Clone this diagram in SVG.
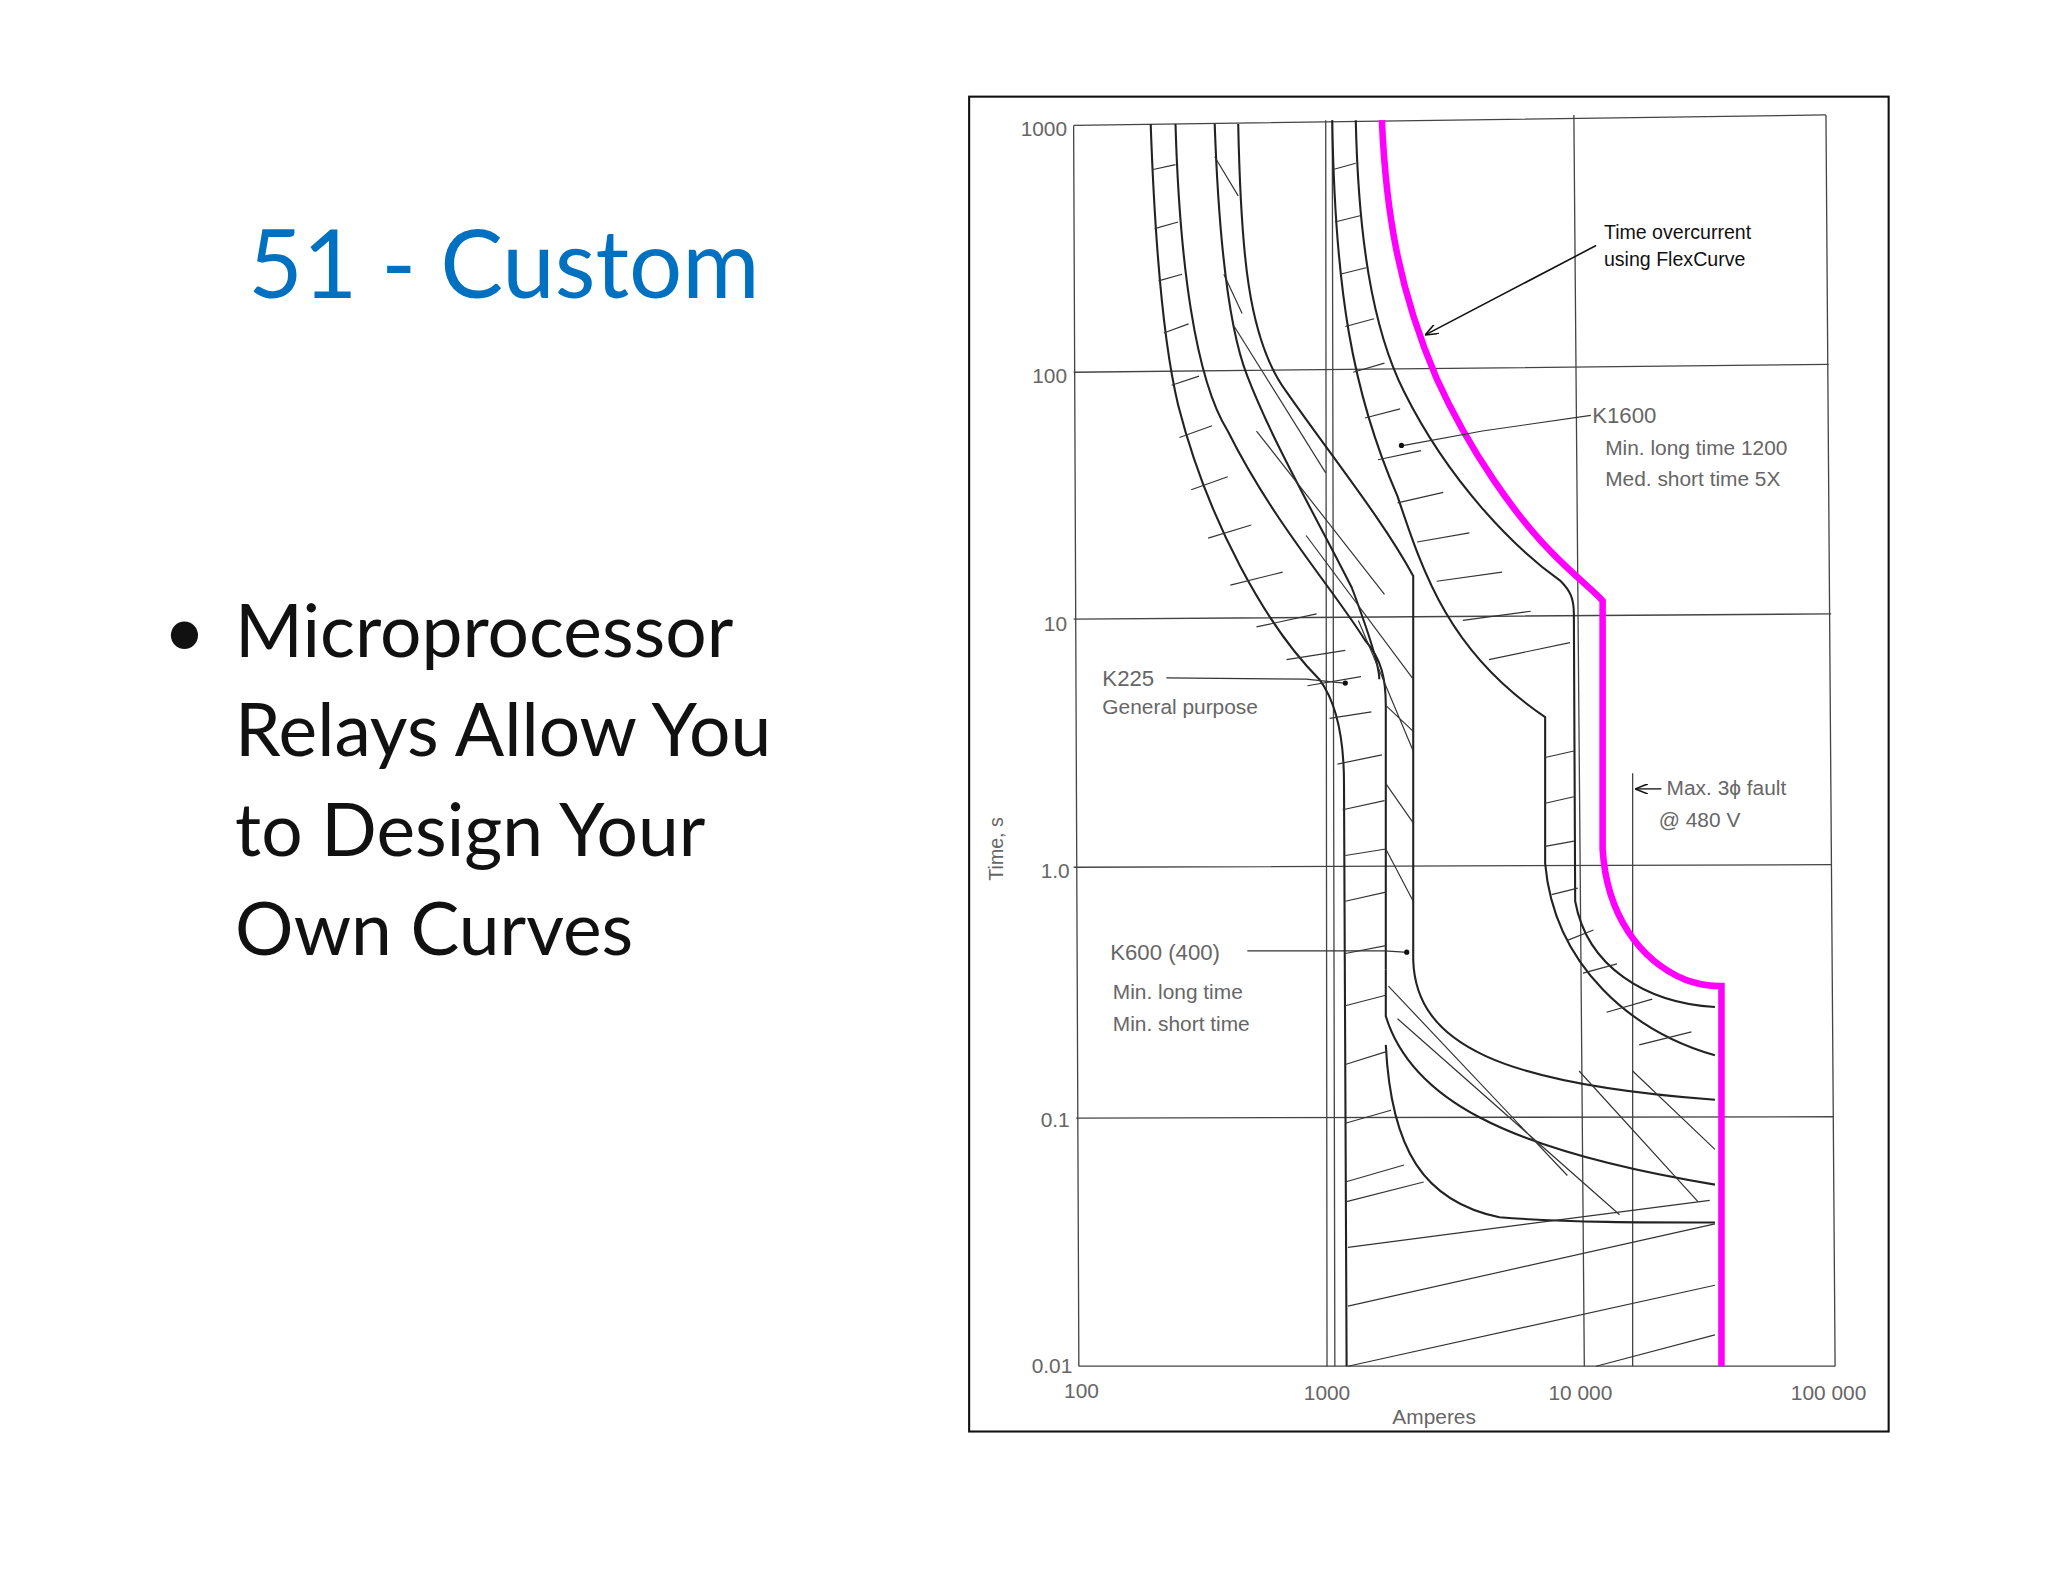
<svg xmlns="http://www.w3.org/2000/svg" width="2048" height="1582" viewBox="0 0 2048 1582">
<style>
.g{stroke:#444;stroke-width:1;fill:none}
.c{stroke:#222;stroke-width:1.6;fill:none}
.h{stroke:#333;stroke-width:0.9;fill:none}
.t{font-family:"Liberation Sans",Arial,sans-serif;fill:#666;font-size:16px}
.a{font-family:"Liberation Sans",Arial,sans-serif;fill:#111;font-size:15px}
.s{font-family:Lato,"Open Sans",sans-serif;fill:#111;font-size:56px}
</style>
<defs><marker id="ar" markerWidth="10" markerHeight="8" refX="9" refY="4" orient="auto" markerUnits="userSpaceOnUse"><path d="M0,0L10,4L0,8" fill="none" stroke="#111" stroke-width="1.2"/></marker></defs>
<rect width="2048" height="1582" fill="#fff"/>
<g transform="scale(1.30612)">
<g id="title"><text x="190" y="228" style="font-family:Lato,'Open Sans',sans-serif;font-size:72px;fill:#0070C0">51 - Custom</text></g>
<g id="bullet">
<text x="125" y="503" class="s">•</text>
<text x="180" y="503" class="s">Microprocessor</text>
<text x="180" y="579" class="s">Relays Allow You</text>
<text x="180" y="655" class="s">to Design Your</text>
<text x="180" y="731" class="s">Own Curves</text>
</g>
<g id="chart">
<rect x="742" y="74" width="704" height="1022" fill="#fff" stroke="#111" stroke-width="1.6"/>
<g id="grid">
<path class="g" d="M822,96L1398,88M822,285L1400,279M822,474L1402,470M822,664L1402,662M824,856L1404,855M826,1046L1405,1046"/>
<path class="g" d="M822,96L826,1046M1015,92L1016,1046M1020,92L1022,1046M1205,88L1213,1046M1398,88L1405,1046M1250,592L1250,1046"/>
</g>
<g id="connectors">
<!-- K225 band -->
<path class="c" d="M881,95C884,180 890,260 902,310C925,400 970,480 1010,520C1025,540 1029,570 1029,600L1031,1046"/>
<path class="c" d="M900,95C903,200 915,290 940,330C975,400 1020,450 1045,490C1058,505 1061,520 1061,540L1061,742"/>
<!-- K400 band -->
<path class="c" d="M930,95C933,180 940,250 955,288C975,340 1010,400 1035,450C1050,490 1056,510 1056,520"/>
<path class="c" d="M948,95C950,190 955,260 985,300C1020,350 1060,400 1082,441L1082,735C1084,800 1150,830 1313,842"/>
<path class="h" d="M930,120L948,150M937,210L951,240M945,250L1015,362M962,330L1060,455M1000,410L1082,520M1040,475L1082,575M1061,540L1082,560M1061,600L1082,630M1061,650L1082,690"/>
<!-- K600 curves -->
<path class="c" d="M1061,742L1061,778C1080,840 1150,880 1313,907"/>
<path class="c" d="M1061,800C1065,880 1090,920 1148,932C1200,936 1260,936 1313,936"/>
<path class="h" d="M1063,755L1200,900M1070,780L1240,930M1032,955L1309,919M1032,1000L1313,937M1032,1046L1313,984M1222,1046L1313,1022M1031,920L1090,905"/>
<path class="h" d="M1209,820L1300,920M1250,820L1313,880"/>
<!-- K1600 band -->
<path class="c" d="M1038,92C1040,180 1050,250 1075,300C1110,370 1160,420 1195,445C1202,452 1205,458 1205,470L1206,690C1215,740 1260,768 1313,771"/>
<path class="c" d="M1020,92C1022,220 1035,300 1070,380C1090,440 1110,500 1183,549L1183,661C1190,740 1250,790 1313,808"/>
<!-- hatches -->
<g class="h">
<path d="M882,130L900,126M884,175L902,170M887,215L905,210M891,255L910,248M897,295L918,288M903,335L928,326M912,375L940,365M925,412L958,402M942,448L982,438M962,480L1008,470M985,505L1030,498M1001,525L1042,518M1018,550L1050,545M1024,585L1058,578M1028,620L1060,613M1030,655L1061,650M1030,690L1061,683M1030,730L1061,724M1030,770L1061,762M1030,815L1062,805M1030,860L1065,850M1030,905L1075,892"/>
<path d="M1020,130L1038,125M1022,170L1042,165M1026,210L1046,205M1030,250L1052,244M1036,285L1060,278M1045,320L1072,313M1055,352L1088,345M1070,385L1105,377M1085,415L1125,408M1100,445L1150,438M1120,475L1172,468M1140,505L1202,492M1183,580L1205,575M1183,615L1205,610M1183,648L1205,644M1188,685L1208,680M1200,720L1220,712M1212,745L1238,738M1230,775L1265,765M1255,800L1295,790"/>
</g>
</g>
<path d="M1058,92C1061,160 1070,220 1100,290C1125,345 1160,395 1190,425C1210,445 1220,452 1227,460L1227,650C1230,700 1255,735 1290,750C1305,755 1312,755 1318,755L1318,1046" fill="none" stroke="#FF00FF" stroke-width="5"/>
<g id="labels">
<g text-anchor="end" class="t"><text x="817" y="104" class="t">1000</text><text x="817" y="293" class="t">100</text><text x="817" y="483" class="t">10</text><text x="819" y="672" class="t">1.0</text><text x="819" y="863" class="t">0.1</text><text x="821" y="1051" class="t">0.01</text></g>
<g text-anchor="middle"><text x="828" y="1070" class="t">100</text><text x="1016" y="1072" class="t">1000</text><text x="1210" y="1072" class="t">10 000</text><text x="1400" y="1072" class="t">100 000</text><text x="1098" y="1090" class="t">Amperes</text><text transform="translate(768,650) rotate(-90)" class="t" style="font-size:15px">Time, s</text></g>
<text x="1228" y="183" class="a">Time overcurrent</text><text x="1228" y="204" class="a">using FlexCurve</text>
<path d="M1222,188L1092,256" stroke="#111" stroke-width="1.2" fill="none" marker-end="url(#ar)"/>
<text x="1219" y="324" class="t" style="font-size:17px">K1600</text>
<path d="M1218,318L1135,330L1075,341" class="h"/><circle cx="1073" cy="341" r="2" fill="#111"/>
<text x="1229" y="348" class="t">Min. long time 1200</text><text x="1229" y="372" class="t">Med. short time 5X</text>
<text x="844" y="525" class="t" style="font-size:17px">K225</text><path d="M893,519L1000,520L1029,523" class="h"/><circle cx="1030" cy="523" r="2" fill="#111"/>
<text x="844" y="547" class="t">General purpose</text>
<text x="1276" y="609" class="t">Max. 3ϕ fault</text><path d="M1272,604L1253,604" stroke="#111" stroke-width="1" marker-end="url(#ar)"/>
<text x="1270" y="633" class="t">@  480 V</text>
<text x="850" y="735" class="t" style="font-size:17px">K600 (400)</text><path d="M955,728L1060,728L1075,729" class="h"/><circle cx="1077" cy="729" r="2" fill="#111"/>
<text x="852" y="765" class="t">Min. long time</text><text x="852" y="789" class="t">Min. short time</text>
</g>
</g>
</g>
</svg>
